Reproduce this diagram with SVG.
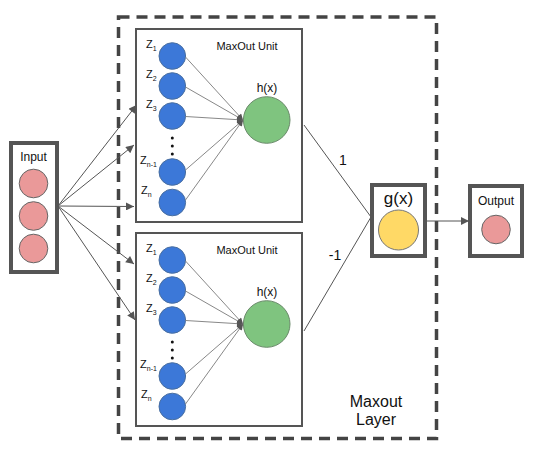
<svg xmlns="http://www.w3.org/2000/svg" width="552" height="451" viewBox="0 0 552 451">
<style>
text{font-family:"Liberation Sans",Arial,sans-serif;fill:#111}
.box{fill:#fff;stroke:#555;stroke-width:4}
.unit{fill:#fff;stroke:#555;stroke-width:2}
.blue{fill:#3c78d8;stroke:#4a6fa0;stroke-width:1}
.green{fill:#7fc47f;stroke:#6a8a6a;stroke-width:1}
.pink{fill:#ea9999;stroke:#666;stroke-width:1}
.yellow{fill:#ffd966;stroke:#777;stroke-width:1}
.arr{stroke:#555;stroke-width:1;fill:none;marker-end:url(#ah)}
.thin{stroke:#888;stroke-width:1;fill:none;marker-end:url(#sh)}
.line{stroke:#555;stroke-width:1;fill:none}
.z{font-size:11px}
.sub{font-size:7px}
</style>
<defs>
<marker id="ah" viewBox="0 0 10 10" refX="10" refY="5" markerWidth="10" markerHeight="8" markerUnits="userSpaceOnUse" orient="auto"><path d="M0,0 L10,5 L0,10 z" fill="#555"/></marker>
<marker id="sh" viewBox="0 0 10 10" refX="10" refY="5" markerWidth="7" markerHeight="6" markerUnits="userSpaceOnUse" orient="auto"><path d="M0,0 L10,5 L0,10 z" fill="#555"/></marker>
</defs>

<g id="maxout-layer">
<rect x="118.5" y="17" width="318" height="421.5" fill="none" stroke="#444" stroke-width="3.5" stroke-dasharray="11,7"/>
<text x="376" y="407" font-size="16" text-anchor="middle">Maxout</text>
<text x="376" y="425" font-size="16" text-anchor="middle">Layer</text>
</g>

<g id="input">
<rect class="box" x="11" y="143" width="46" height="129"/>
<text x="33.5" y="161" font-size="12" text-anchor="middle">Input</text>
<circle class="pink" cx="33.5" cy="183.5" r="14.3"/>
<circle class="pink" cx="33.5" cy="216" r="14.3"/>
<circle class="pink" cx="33.5" cy="248.5" r="14.3"/>
</g>

<g id="unit1">
<rect class="unit" x="136" y="29" width="166" height="193"/>
<text x="247" y="50" font-size="11" text-anchor="middle">MaxOut Unit</text>
<text x="267" y="92" font-size="12" text-anchor="middle">h(x)</text>
<circle class="green" cx="266.7" cy="120" r="23.3"/>
<circle class="blue" cx="172.3" cy="56" r="13.3"/>
<circle class="blue" cx="172.3" cy="86" r="13.3"/>
<circle class="blue" cx="172.3" cy="116" r="13.3"/>
<circle class="blue" cx="172.3" cy="172" r="13.3"/>
<circle class="blue" cx="172.3" cy="202.5" r="13.3"/>
<circle cx="172.3" cy="138" r="1.5" fill="#111"/>
<circle cx="172.3" cy="146" r="1.5" fill="#111"/>
<circle cx="172.3" cy="154" r="1.5" fill="#111"/>
<text class="z" x="146" y="48">Z<tspan class="sub" dy="3">1</tspan></text>
<text class="z" x="146" y="78">Z<tspan class="sub" dy="3">2</tspan></text>
<text class="z" x="146" y="108">Z<tspan class="sub" dy="3">3</tspan></text>
<text class="z" x="140" y="164">Z<tspan class="sub" dy="3">n-1</tspan></text>
<text class="z" x="141" y="194">Z<tspan class="sub" dy="3">n</tspan></text>
</g>

<g id="unit2">
<rect class="unit" x="136" y="233" width="166" height="193"/>
<text x="247" y="254" font-size="11" text-anchor="middle">MaxOut Unit</text>
<text x="267" y="296" font-size="12" text-anchor="middle">h(x)</text>
<circle class="green" cx="266.7" cy="324" r="23.3"/>
<circle class="blue" cx="172.3" cy="260" r="13.3"/>
<circle class="blue" cx="172.3" cy="290" r="13.3"/>
<circle class="blue" cx="172.3" cy="320" r="13.3"/>
<circle class="blue" cx="172.3" cy="376" r="13.3"/>
<circle class="blue" cx="172.3" cy="406.5" r="13.3"/>
<circle cx="172.3" cy="342" r="1.5" fill="#111"/>
<circle cx="172.3" cy="350" r="1.5" fill="#111"/>
<circle cx="172.3" cy="358" r="1.5" fill="#111"/>
<text class="z" x="146" y="252">Z<tspan class="sub" dy="3">1</tspan></text>
<text class="z" x="146" y="282">Z<tspan class="sub" dy="3">2</tspan></text>
<text class="z" x="146" y="312">Z<tspan class="sub" dy="3">3</tspan></text>
<text class="z" x="140" y="368">Z<tspan class="sub" dy="3">n-1</tspan></text>
<text class="z" x="141" y="398">Z<tspan class="sub" dy="3">n</tspan></text>
</g>

<g id="gx">
<rect class="box" x="372" y="185" width="53" height="71"/>
<text x="398.5" y="204" font-size="17" text-anchor="middle">g(x)</text>
<circle class="yellow" cx="398.5" cy="230" r="20"/>
</g>

<g id="output">
<rect class="box" x="470" y="186" width="52" height="70"/>
<text x="496" y="205" font-size="12" text-anchor="middle">Output</text>
<circle class="pink" cx="496" cy="229.5" r="14.3"/>
</g>

<g id="connectors">
<line class="arr" x1="58" y1="206" x2="136.5" y2="105"/>
<line class="arr" x1="58" y1="206" x2="134" y2="145"/>
<line class="arr" x1="58" y1="206" x2="134" y2="206.5"/>
<line class="arr" x1="58" y1="206" x2="134" y2="264"/>
<line class="arr" x1="58" y1="206" x2="135" y2="320"/>

<line class="thin" x1="185.5" y1="57" x2="243" y2="120"/>
<line class="thin" x1="185.5" y1="87" x2="243" y2="120"/>
<line class="thin" x1="185.5" y1="116.5" x2="243" y2="120"/>
<line class="thin" x1="185.5" y1="170" x2="243" y2="120"/>
<line class="thin" x1="185.5" y1="200" x2="243" y2="120"/>

<line class="thin" x1="185.5" y1="261" x2="243" y2="324"/>
<line class="thin" x1="185.5" y1="291" x2="243" y2="324"/>
<line class="thin" x1="185.5" y1="320.5" x2="243" y2="324"/>
<line class="thin" x1="185.5" y1="374" x2="243" y2="324"/>
<line class="thin" x1="185.5" y1="404" x2="243" y2="324"/>

<line class="line" x1="304" y1="125" x2="371" y2="217"/>
<line class="line" x1="304" y1="331" x2="371" y2="217"/>
<text x="343" y="165" font-size="14" text-anchor="middle">1</text>
<text x="335" y="260" font-size="14" text-anchor="middle">-1</text>

<line class="arr" x1="426" y1="221" x2="469" y2="221"/>
</g>
</svg>
